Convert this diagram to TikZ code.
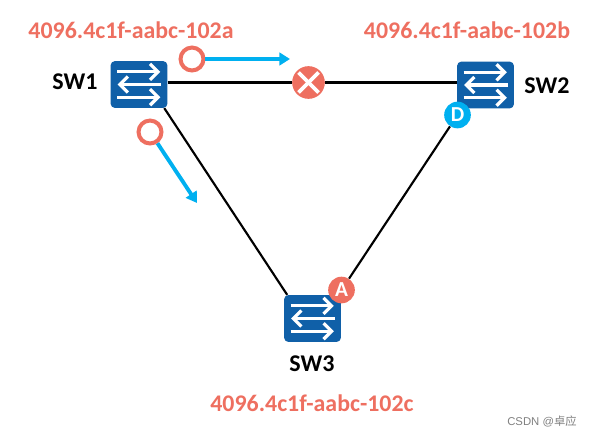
\documentclass[tikz,border=0pt]{standalone}
\usepackage{fontspec}
\usepackage{xcolor}
\usepackage{tikz}
\usetikzlibrary{arrows.meta}
\setmainfont{Carlito}
\newfontfamily\markfont{Liberation Sans}
\newfontfamily\cjkfont{Noto Sans CJK SC}
\definecolor{switchcolor}{HTML}{1060A8}
\definecolor{redcolor}{HTML}{EE6F60}
\definecolor{bluecolor}{HTML}{00B0F0}

\begin{document}
\begin{tikzpicture}[
    x=0.75pt, y=-0.75pt,
    link/.style={draw=black, line width=1.6pt},
    switchbox/.style={rectangle, rounded corners=3pt, fill=switchcolor,
                      minimum width=42.5pt, minimum height=35pt, inner sep=0pt,
                      path picture={
                        \draw[switcharrow] ([shift={(-16.5pt,9.5pt)}]path picture bounding box.center) -- ++(32.5pt,0);
                        \draw[switcharrow] ([shift={(16.5pt,0pt)}]path picture bounding box.center) -- ++(-32.5pt,0);
                        \draw[switcharrow] ([shift={(-16.5pt,-9.5pt)}]path picture bounding box.center) -- ++(32.5pt,0);
                      }},
    switcharrow/.style={draw=white, line width=2.4pt, -{Straight Barb[length=6pt, width=12pt]}},
    swlabel/.style={font=\bfseries\fontsize{18}{20}\selectfont, text=black, inner sep=0pt},
    maclabel/.style={font=\bfseries\fontsize{17.9}{20}\selectfont, text=redcolor, inner sep=0pt},
    port/.style={circle, draw=redcolor, line width=3pt, fill=white, minimum size=17.2pt, inner sep=0pt},
    badge/.style={circle, minimum size=20pt, inner sep=0pt, text=white, font=\bfseries\fontsize{16}{16}\selectfont},
    flow/.style={draw=bluecolor, line width=2.9pt, -{Triangle[length=8pt, width=9.5pt]}}
]
\useasboundingbox (0,0) rectangle (591,436);

\node[switchbox] (sw1) at (139,84.5) {};
\node[switchbox] (sw2) at (485.5,85) {};
\node[switchbox] (sw3) at (312.5,318.5) {};

\node[swlabel] (sw1label) at (75,82) {SW1};
\node[swlabel] (sw2label) at (547,86) {SW2};
\node[swlabel] (sw3label) at (312,364) {SW3};

\node[maclabel] (mac1) at (131,30) {4096.4c1f-aabc-102a};
\node[maclabel] (mac2) at (467,30) {4096.4c1f-aabc-102b};
\node[maclabel] (mac3) at (312,403) {4096.4c1f-aabc-102c};

\node[circle, fill=redcolor, minimum size=24.5pt, inner sep=0pt] (fault) at (308.5,82.5) {};
\draw[white, line width=2.8pt] (fault.center) ++(-7.5pt,-7.5pt) -- ++(15pt,15pt);
\draw[white, line width=2.8pt] (fault.center) ++(-7.5pt,7.5pt) -- ++(15pt,-15pt);

\node[badge, fill=bluecolor] (desig) at (457.5,115) {D};
\node[badge, fill=redcolor] (alt) at (341.5,290) {A};

\node[port] (port1) at (192,59) {};
\node[port] (port2) at (150,132) {};
\coordinate (head1) at (290,59);
\coordinate (head2) at (197,203);

\draw[link] (fault -| sw1.east) -- (fault);
\draw[link] (fault) -- (fault -| sw2.west);
\draw[link] ([xshift=-2.5pt]sw1.south east) -- ([xshift=2.5pt]sw3.north west);
\draw[link] (alt) -- (desig);
\draw[flow] (port1) -- (head1);
\draw[flow] (port2) -- (head2);

\node[text=black!50, font=\markfont\fontsize{8.5}{10}\selectfont, inner sep=0pt] (mark) at (542,421) {CSDN @{\cjkfont 卓应}};
\end{tikzpicture}
\end{document}
